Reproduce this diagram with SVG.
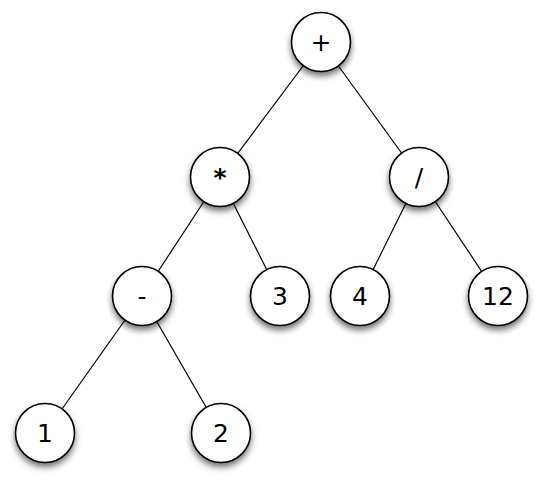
<svg xmlns="http://www.w3.org/2000/svg" width="543" height="484" viewBox="0 0 543 484">
<defs>
<filter id="sh" x="-50%" y="-50%" width="200%" height="200%">
<feDropShadow dx="0" dy="4" stdDeviation="3" flood-color="#000" flood-opacity="0.55"/>
</filter>
<style>
.n circle{fill:#fff;stroke:#000;stroke-width:1.6;filter:url(#sh)}
.n text{font-family:"DejaVu Sans",sans-serif;font-size:25px;text-anchor:middle;fill:#000}
#edges line{stroke:#000;stroke-width:1.2}
</style>
</defs>
<rect width="543" height="484" fill="#fff"/>
<g id="edges">
<line x1="321" y1="42" x2="220" y2="177"/>
<line x1="321" y1="42" x2="419" y2="177"/>
<line x1="220" y1="177" x2="142" y2="296"/>
<line x1="220" y1="177" x2="280" y2="296"/>
<line x1="419" y1="177" x2="360" y2="296"/>
<line x1="419" y1="177" x2="498" y2="296"/>
<line x1="142" y1="296" x2="45" y2="433"/>
<line x1="142" y1="296" x2="221" y2="433"/>
</g>
<g id="n-plus" class="n"><circle cx="321" cy="42" r="29.5"/><text x="321" y="51">+</text></g>
<g id="n-mul" class="n"><circle cx="220" cy="177" r="29.5"/><text x="220" y="186" font-weight="bold">*</text></g>
<g id="n-div" class="n"><circle cx="419" cy="177" r="29.5"/><text x="419" y="186">/</text></g>
<g id="n-sub" class="n"><circle cx="142" cy="296" r="29.5"/><text x="142" y="305">-</text></g>
<g id="n-3" class="n"><circle cx="280" cy="296" r="29.5"/><text x="280" y="305">3</text></g>
<g id="n-4" class="n"><circle cx="360" cy="296" r="29.5"/><text x="360" y="305">4</text></g>
<g id="n-12" class="n"><circle cx="498" cy="296" r="29.5"/><text x="498" y="305">12</text></g>
<g id="n-1" class="n"><circle cx="45" cy="433" r="29.5"/><text x="45" y="442">1</text></g>
<g id="n-2" class="n"><circle cx="221" cy="433" r="29.5"/><text x="221" y="442">2</text></g>
</svg>
